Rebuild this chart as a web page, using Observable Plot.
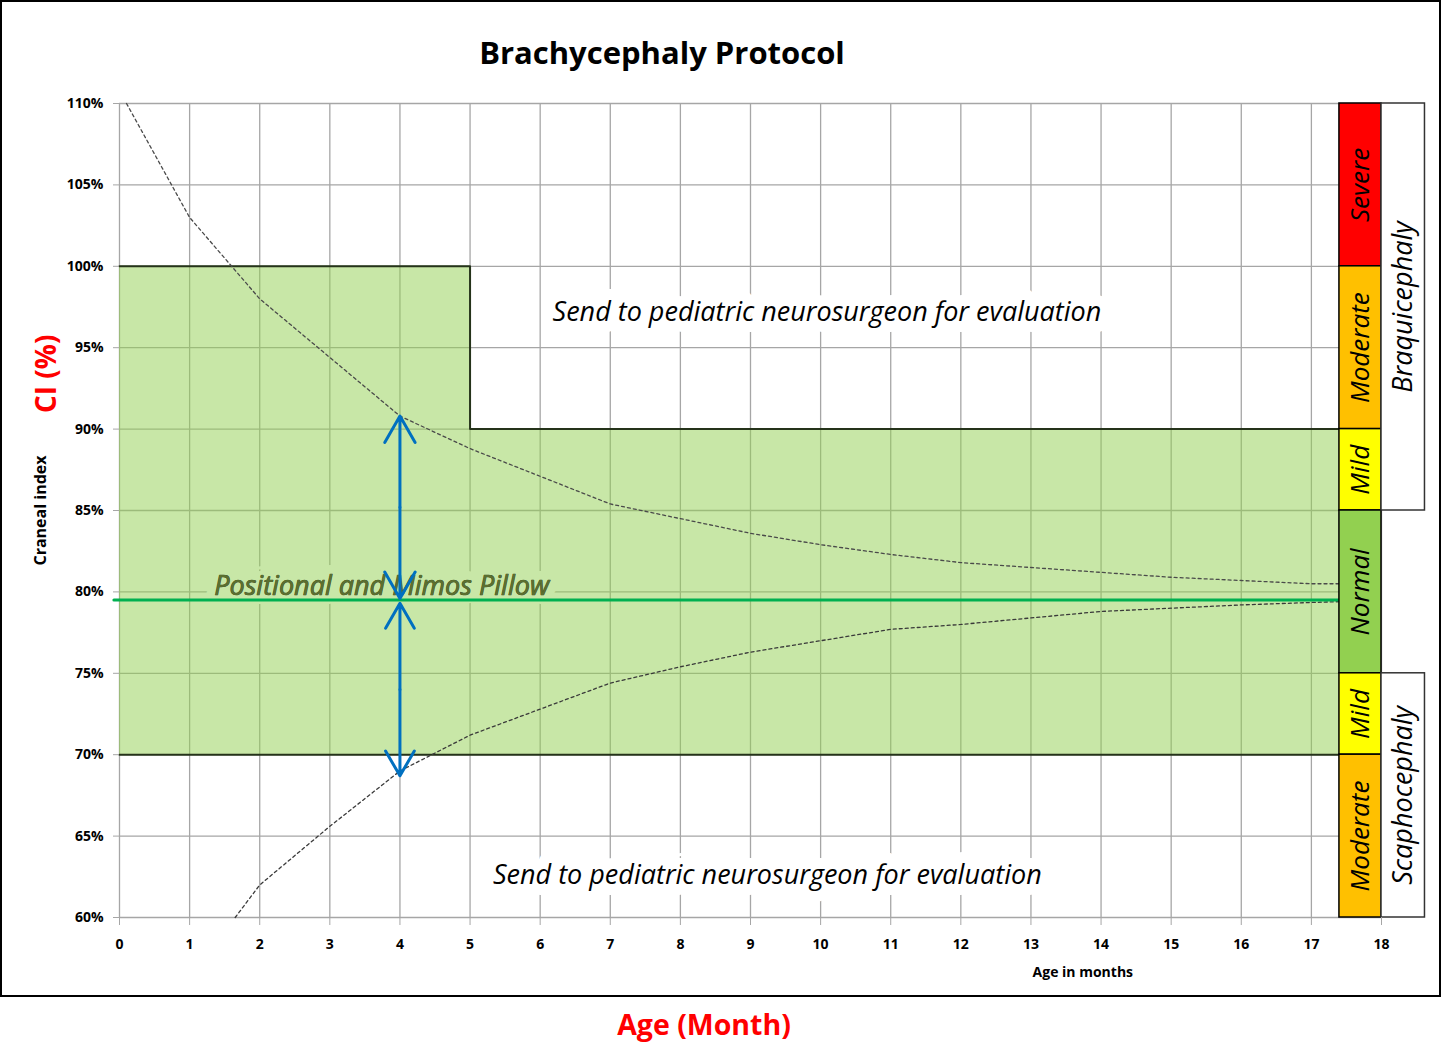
<!DOCTYPE html>
<html>
<head>
<meta charset="utf-8">
<script src="https://cdn.jsdelivr.net/npm/d3@7"></script>
<script src="https://cdn.jsdelivr.net/npm/@observablehq/plot@0.6"></script>
<style>
  html, body { margin: 0; padding: 0; background: #fff; }
  #wrap { position: relative; width: 1442px; height: 1064px; overflow: hidden; font-family: "Open Sans", sans-serif; }
  #frame { position: absolute; left: 0; top: 0; width: 1441px; height: 997px; box-sizing: border-box; border: 2px solid #000; pointer-events: none; }
  #title { position: absolute; left: 0; width: 1324px; top: 30px; text-align: center; font-size: 31px; font-weight: 700; color: #000; line-height: 44px; }
  #xtitle { position: absolute; left: 0; width: 1408px; top: 1004px; text-align: center; font-size: 28.5px; font-weight: 700; color: #ff0000; line-height: 40px; }
  #chart { position: absolute; left: 0; top: 0; }
  #chart svg { overflow: visible; }
</style>
</head>
<body>
<div id="wrap">
  <div id="chart"></div>
  <div id="frame"></div>
  <div id="title">Brachycephaly Protocol</div>
  <div id="xtitle">Age (Month)</div>
</div>
<script>
// ---- data ----
const monthTicks = [0,1,2,3,4,5,6,7,8,9,10,11,12,13,14,15,16,17,18];
const ciTicks = [60,65,70,75,80,85,90,95,100,105,110];

// treatment zone (green area): upper limit steps down at 5 months
const zoneX = [0, 5, 17.4];
const zoneTop = [100, 90, 90];
const zoneBottom = 70;

// target line
const targetX = [-0.08, 17.4];
const targetCI = 79.5;

// dotted boundary curves
const upperX = [0.1,1,2,3,4,5,6,7,8,9,10,11,12,13,14,15,16,17,17.4];
const upperY = [110,103.0,98.0,94.4,90.8,88.8,87.1,85.4,84.5,83.6,82.9,82.3,81.8,81.5,81.2,80.9,80.7,80.5,80.5];
const lowerX = [1.65,2,3,4,5,6,7,8,9,10,11,12,13,14,15,16,17,17.4];
const lowerY = [60,62.0,65.6,69.0,71.2,72.8,74.4,75.4,76.3,77.0,77.7,78.0,78.4,78.8,79.0,79.2,79.35,79.4];

// arrows at 4 months
const arrowX = 4;
const arrowUpper = [79.6, 90.8];
const arrowLower = [68.7, 79.3];

// severity scale
const sevLabels = ["Severe","Moderate","Mild","Normal","Mild","Moderate"];
const sevLow  = [100, 90, 85, 75, 70, 60];
const sevHigh = [110, 100, 90, 85, 75, 70];
const sevColors = ["#ff0000","#ffc000","#ffff00","#92d050","#ffff00","#ffc000"];
const sevX = [17.4, 18];

const groupLabels = ["Braquicephaly","Scaphocephaly"];
const groupLow = [85, 60];
const groupHigh = [110, 75];
const groupX = [18, 18.62];

const noteText = ["Send to pediatric neurosurgeon for evaluation","Send to pediatric neurosurgeon for evaluation"];
const noteX = [10.09, 9.24];
const noteY = [97.2, 62.6];
const pillowText = "Positional and Mimos Pillow";
const pillowPos = [3.74, 80.35];

// ---- tables ----
const zone = zoneX.map((x,i) => ({x, top: zoneTop[i], bottom: zoneBottom}));
const upper = upperX.map((x,i) => ({x, y: upperY[i]}));
const lower = lowerX.map((x,i) => ({x, y: lowerY[i]}));
const target = targetX.map(x => ({x, y: targetCI}));
const sev = sevLabels.map((label,i) => ({label, lo: sevLow[i], hi: sevHigh[i], color: sevColors[i]}));
const groups = groupLabels.map((label,i) => ({label, lo: groupLow[i], hi: groupHigh[i]}));
const notes = noteText.map((t,i) => ({t, x: noteX[i], y: noteY[i]}));
const midU = (arrowUpper[0]+arrowUpper[1])/2, midL = (arrowLower[0]+arrowLower[1])/2;
const arrows = [
  {y1: midU, y2: arrowUpper[1]}, {y1: midU, y2: arrowUpper[0]},
  {y1: midL, y2: arrowLower[1]}, {y1: midL, y2: arrowLower[0]}
];

const gridColor = "#a6a6a6";
const fontF = "Open Sans";

const chart = Plot.plot({
  width: 1442,
  height: 1064,
  marginLeft: 119,
  marginRight: 61,
  marginTop: 103,
  marginBottom: 147,
  style: {fontFamily: fontF, background: "transparent", overflow: "visible"},
  x: {domain: [0, 18]},
  y: {domain: [60, 110]},
  marks: [
    Plot.gridX(monthTicks, {stroke: gridColor, strokeOpacity: 1, strokeWidth: 1.3}),
    Plot.gridY(ciTicks, {stroke: gridColor, strokeOpacity: 1, strokeWidth: 1.3}),
    Plot.areaY(zone, {x: "x", y1: "bottom", y2: "top", curve: "step-after", fill: "#92d050", fillOpacity: 0.5}),
    Plot.line(zone, {x: "x", y: "top", curve: "step-after", stroke: "#25331a", strokeWidth: 2}),
    Plot.line(zone, {x: "x", y: "bottom", stroke: "#25331a", strokeWidth: 2}),
    Plot.line(upper, {x: "x", y: "y", stroke: "#4a4a4a", strokeWidth: 1.3, strokeDasharray: "3,3"}),
    Plot.line(lower, {x: "x", y: "y", stroke: "#3a3a3a", strokeWidth: 1.3, strokeDasharray: "3,3"}),
    Plot.text(notes, {x: "x", y: "y", text: "t", fontSize: 27, fontStyle: "italic", fill: "#000",
      stroke: "#fff", strokeWidth: 22, strokeLinejoin: "round", paintOrder: "stroke"}),
    Plot.text([pillowText], {x: () => pillowPos[0], y: () => pillowPos[1], text: d => d, fontSize: 27, fontStyle: "italic",
      fill: "#4f6228", stroke: "#c8e7a7", strokeWidth: 18, strokeLinejoin: "round", paintOrder: "stroke"}),
    Plot.text([pillowText], {x: () => pillowPos[0], y: () => pillowPos[1], text: d => d, fontSize: 27, fontStyle: "italic",
      fill: "#5b7030", stroke: "#34421a", strokeWidth: 0.6}),
    Plot.line(target, {x: "x", y: "y", stroke: "#00b050", strokeWidth: 3}),
    Plot.arrow(arrows, {x1: () => arrowX, x2: () => arrowX, y1: "y1", y2: "y2", stroke: "#0070c0", strokeWidth: 3,
      headLength: 16, headAngle: 60}),
    Plot.rect(sev, {x1: () => sevX[0], x2: () => sevX[1], y1: "lo", y2: "hi", fill: "color", stroke: "#000", strokeWidth: 1.5}),
    Plot.text(sev, {x: () => (sevX[0]+sevX[1])/2, y: d => (d.lo+d.hi)/2, text: "label", rotate: -90, fontSize: 26, fontStyle: "italic", fill: "#000"}),
    Plot.rect(groups, {x1: () => groupX[0], x2: () => groupX[1], y1: "lo", y2: "hi", fill: "#fff", stroke: "#333", strokeWidth: 1.5}),
    Plot.text(groups, {x: () => (groupX[0]+groupX[1])/2, y: d => (d.lo+d.hi)/2, text: "label", rotate: -90, fontSize: 27, fontStyle: "italic", fill: "#000"}),
    Plot.axisY({ticks: ciTicks, tickFormat: d => d + "%", tickSize: 6, tickPadding: 10, stroke: gridColor, fill: "#000",
      fontSize: 14, fontWeight: "bold", label: null}),
    Plot.axisX({ticks: monthTicks, tickFormat: d => String(d), tickSize: 8, tickPadding: 14, stroke: gridColor, fill: "#000",
      fontSize: 14, fontWeight: "bold", label: null}),
    Plot.text(["Craneal index"], {frameAnchor: "left", dx: -79, textAnchor: "middle", text: d => d, rotate: -90, fontSize: 16, fontWeight: "bold", fill: "#000"}),
    Plot.text(["CI (%)"], {x: () => -1.03, y: () => 93.4, textAnchor: "middle", text: d => d, rotate: -90, fontSize: 28, fontWeight: "bold", fill: "#ff0000"}),
    Plot.text(["Age in months"], {x: () => 13.74, frameAnchor: "bottom", dy: 59, textAnchor: "middle", text: d => d, fontSize: 14, fontWeight: "bold", fill: "#000"})
  ]
});
document.getElementById("chart").appendChild(chart);
</script>
</body>
</html>
